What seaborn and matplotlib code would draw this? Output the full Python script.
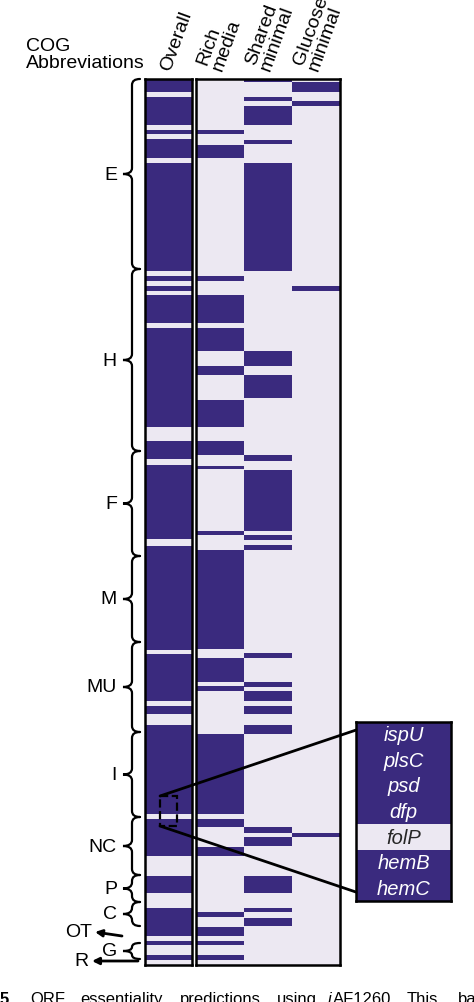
import numpy as np
import seaborn as sns
import matplotlib.pyplot as plt
import matplotlib.transforms as mtransforms
from matplotlib.colors import ListedColormap
from matplotlib.path import Path
from matplotlib.patches import PathPatch, Rectangle, ConnectionPatch

sns.set_style('white')
plt.rcParams['font.family'] = ['Liberation Sans', 'DejaVu Sans']
plt.rcParams['text.color'] = 'black'

# rows of the map (one row ~ one pixel strip of the original figure)
n_rows = 886

# essential stretches (start row, end row) for each column
overall_runs = [(0, 13), (18, 46), (51, 55), (60, 79), (84, 192), (197, 202),
                (207, 212), (216, 244), (249, 348), (362, 380), (386, 460),
                (467, 571), (575, 622), (627, 635), (646, 735), (740, 777),
                (797, 814), (829, 857), (862, 866), (876, 881)]
rich_runs = [(51, 55), (66, 79), (197, 202), (216, 244), (249, 272), (287, 296),
             (321, 348), (362, 376), (387, 390), (452, 456), (471, 570),
             (579, 603), (607, 612), (655, 735), (740, 748), (768, 777),
             (833, 838), (848, 857), (862, 866), (876, 881)]
shared_runs = [(0, 3), (18, 22), (27, 46), (61, 65), (84, 192), (272, 287),
               (296, 319), (376, 382), (391, 452), (456, 461), (466, 471),
               (574, 579), (603, 608), (612, 622), (627, 635), (646, 655),
               (748, 754), (758, 767), (797, 814), (829, 833), (839, 847)]
glucose_runs = [(3, 13), (22, 27), (207, 212), (754, 758)]

conditions = ['Rich\nmedia', 'Shared\nminimal', 'Glucose\nminimal']

# COG groups (row ranges) and single-gene groups marked with arrows
group_names = ['E', 'H', 'F', 'M', 'MU', 'I', 'NC', 'P', 'C', 'G']
group_start = [0, 190, 372, 477, 563, 653, 738, 796, 823, 864]
group_end = [190, 372, 477, 563, 653, 738, 796, 823, 847, 880]
arrow_names = ['OT', 'R']
arrow_rows = [857, 882]

# zoomed block
zoom_genes = ['ispU', 'plsC', 'psd', 'dfp', 'folP', 'hemB', 'hemC']
zoom_calls = [1, 1, 1, 1, 0, 1, 1]
zoom_first_row = 717
zoom_last_row = 747


def runs_to_col(runs):
    col = np.zeros(n_rows)
    for a, b in runs:
        col[a:b] = 1
    return col


overall = runs_to_col(overall_runs)[:, None]
cond_mat = np.column_stack([runs_to_col(r) for r in (rich_runs, shared_runs, glucose_runs)])

dark = '#3a2a7e'
light = '#ece8f2'
cmap = ListedColormap([light, dark])

W, H = 474, 1003
fig = plt.figure(figsize=(W / 100, H / 100), dpi=100)


def px_axes(x0, y0, x1, y1):
    return fig.add_axes([x0 / W, 1 - y1 / H, (x1 - x0) / W, (y1 - y0) / H])


ax1 = px_axes(145, 80, 192, 966)
ax2 = px_axes(196, 80, 340, 966)
ax3 = px_axes(356, 723, 451, 902)

sns.heatmap(overall, ax=ax1, cmap=cmap, vmin=0, vmax=1, cbar=False,
            xticklabels=False, yticklabels=False)
sns.heatmap(cond_mat, ax=ax2, cmap=cmap, vmin=0, vmax=1, cbar=False,
            xticklabels=False, yticklabels=False)
sns.heatmap(np.array(zoom_calls)[:, None], ax=ax3, cmap=cmap, vmin=0, vmax=1,
            cbar=False, xticklabels=False, yticklabels=False,
            annot=np.array(zoom_genes)[:, None], fmt='',
            annot_kws=dict(fontstyle='italic', fontsize=14.5))

for ax in (ax1, ax2, ax3):
    for s in ax.spines.values():
        s.set_visible(True)
        s.set_linewidth(1.8)
        s.set_color('black')

# column headers
lab_kw = dict(rotation=70, rotation_mode='anchor', ha='left', va='bottom',
              fontsize=14, linespacing=0.95)
ax1.text(0.62, 1.008, 'Overall', transform=mtransforms.blended_transform_factory(
    ax1.transData, ax1.transAxes), **lab_kw)
t2 = mtransforms.blended_transform_factory(ax2.transData, ax2.transAxes)
for i, lab in enumerate(conditions):
    ax2.text(i + 0.62, 1.008, lab, transform=t2, **lab_kw)

fig.text(26 / W, 1 - 72 / H, 'COG\nAbbreviations', ha='left', va='bottom',
         fontsize=14, linespacing=1.0)

# braces for the COG groups
tb = mtransforms.blended_transform_factory(ax1.transAxes, ax1.transData)


def fx(px):
    return (px - 145) / 47


x_end, x_line, x_tip = fx(140), fx(132), fx(123)
for name, y0, y1 in zip(group_names, group_start, group_end):
    ym = (y0 + y1) / 2
    r = min(6, (y1 - y0) / 4)
    verts = [(x_end, y0), (x_line, y0), (x_line, y0 + r), (x_line, ym - r),
             (x_line, ym), (x_tip, ym), (x_line, ym), (x_line, ym + r),
             (x_line, y1 - r), (x_line, y1), (x_end, y1)]
    codes = [Path.MOVETO, Path.CURVE3, Path.CURVE3, Path.LINETO,
             Path.CURVE3, Path.CURVE3, Path.CURVE3, Path.CURVE3,
             Path.LINETO, Path.CURVE3, Path.CURVE3]
    ax1.add_patch(PathPatch(Path(verts, codes), transform=tb, fill=False,
                            lw=1.6, color='black', clip_on=False, capstyle='round'))
    ax1.text(fx(117), ym, name, transform=tb, ha='right', va='center', fontsize=14)

arrow_tail = [fx(122), fx(138)]
arrow_head = [fx(95), fx(92)]
arrow_rise = [4, 0]
for name, row, xt, xh, dy in zip(arrow_names, arrow_rows, arrow_tail, arrow_head, arrow_rise):
    ax1.annotate('', xy=(xh, row - dy), xycoords=tb, xytext=(xt, row), textcoords=tb,
                 arrowprops=dict(arrowstyle='-|>', lw=2, color='black',
                                 mutation_scale=10, shrinkA=0, shrinkB=0))
    ax1.text(xh - fx(148), row - dy, name, transform=tb, ha='right', va='center',
             fontsize=14)

# dashed box and connector lines to the zoomed block
ax1.add_patch(Rectangle((0.32, zoom_first_row), 0.36, zoom_last_row - zoom_first_row,
                        transform=tb, fill=False, ls='--', lw=1.6, color='black'))
for yr, yb in ((zoom_first_row, 0.955), (zoom_last_row, 0.05)):
    fig.add_artist(ConnectionPatch(xyA=(0.32, yr), coordsA=tb, xyB=(0, yb),
                                   coordsB=ax3.transAxes, lw=2, color='black'))

# caption (cut by the lower edge, as in the source page)
cap_words = ['5', 'ORF', 'essentiality', 'predictions', 'using', 'i', 'AF1260.', 'This', 'ba']
cap_x = [0, 30, 80, 180, 277, 328, 333, 407, 458]
for w, x in zip(cap_words, cap_x):
    fig.text(x / W, -1.5 / H, w, ha='left', va='baseline', fontsize=12,
             fontweight='bold' if w == '5' else 'normal',
             fontstyle='italic' if w == 'i' else 'normal')

fig.savefig('out.png', dpi=100)
